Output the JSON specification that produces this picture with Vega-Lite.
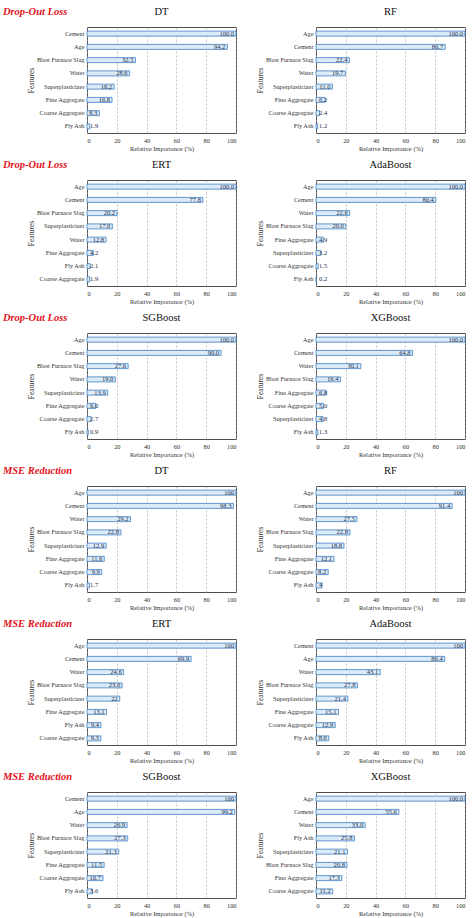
{
  "$schema": "https://vega.github.io/schema/vega-lite/v6.json",
  "padding": {"left": 2, "top": 6, "right": 2, "bottom": 2},
  "background": "white",
  "spacing": 7,
  "datasets": {
    "imp": [
      {"row": 1, "m": "DT", "r": 1, "f": "Cement", "v": 100.0, "l": "100.0"},
      {"row": 1, "m": "DT", "r": 2, "f": "Age", "v": 94.2, "l": "94.2"},
      {"row": 1, "m": "DT", "r": 3, "f": "Blast Furnace Slag", "v": 32.5, "l": "32.5"},
      {"row": 1, "m": "DT", "r": 4, "f": "Water", "v": 28.6, "l": "28.6"},
      {"row": 1, "m": "DT", "r": 5, "f": "Superplasticizer", "v": 18.2, "l": "18.2"},
      {"row": 1, "m": "DT", "r": 6, "f": "Fine Aggregate", "v": 16.8, "l": "16.8"},
      {"row": 1, "m": "DT", "r": 7, "f": "Coarse Aggregate", "v": 8.3, "l": "8.3"},
      {"row": 1, "m": "DT", "r": 8, "f": "Fly Ash", "v": 1.9, "l": "1.9"},
      {"row": 1, "m": "RF", "r": 1, "f": "Age", "v": 100.0, "l": "100.0"},
      {"row": 1, "m": "RF", "r": 2, "f": "Cement", "v": 86.7, "l": "86.7"},
      {"row": 1, "m": "RF", "r": 3, "f": "Blast Furnace Slag", "v": 22.4, "l": "22.4"},
      {"row": 1, "m": "RF", "r": 4, "f": "Water", "v": 19.7, "l": "19.7"},
      {"row": 1, "m": "RF", "r": 5, "f": "Superplasticizer", "v": 11.0, "l": "11.0"},
      {"row": 1, "m": "RF", "r": 6, "f": "Fine Aggregate", "v": 6.2, "l": "6.2"},
      {"row": 1, "m": "RF", "r": 7, "f": "Coarse Aggregate", "v": 2.4, "l": "2.4"},
      {"row": 1, "m": "RF", "r": 8, "f": "Fly Ash", "v": 1.2, "l": "1.2"},
      {"row": 2, "m": "ERT", "r": 1, "f": "Age", "v": 100.0, "l": "100.0"},
      {"row": 2, "m": "ERT", "r": 2, "f": "Cement", "v": 77.8, "l": "77.8"},
      {"row": 2, "m": "ERT", "r": 3, "f": "Blast Furnace Slag", "v": 20.2, "l": "20.2"},
      {"row": 2, "m": "ERT", "r": 4, "f": "Superplasticizer", "v": 17.0, "l": "17.0"},
      {"row": 2, "m": "ERT", "r": 5, "f": "Water", "v": 12.8, "l": "12.8"},
      {"row": 2, "m": "ERT", "r": 6, "f": "Fine Aggregate", "v": 4.2, "l": "4.2"},
      {"row": 2, "m": "ERT", "r": 7, "f": "Fly Ash", "v": 2.1, "l": "2.1"},
      {"row": 2, "m": "ERT", "r": 8, "f": "Coarse Aggregate", "v": 1.9, "l": "1.9"},
      {"row": 2, "m": "AdaBoost", "r": 1, "f": "Age", "v": 100.0, "l": "100.0"},
      {"row": 2, "m": "AdaBoost", "r": 2, "f": "Cement", "v": 80.4, "l": "80.4"},
      {"row": 2, "m": "AdaBoost", "r": 3, "f": "Water", "v": 22.6, "l": "22.6"},
      {"row": 2, "m": "AdaBoost", "r": 4, "f": "Blast Furnace Slag", "v": 20.0, "l": "20.0"},
      {"row": 2, "m": "AdaBoost", "r": 5, "f": "Fine Aggregate", "v": 4.9, "l": "4.9"},
      {"row": 2, "m": "AdaBoost", "r": 6, "f": "Superplasticizer", "v": 3.2, "l": "3.2"},
      {"row": 2, "m": "AdaBoost", "r": 7, "f": "Coarse Aggregate", "v": 1.5, "l": "1.5"},
      {"row": 2, "m": "AdaBoost", "r": 8, "f": "Fly Ash", "v": 0.2, "l": "0.2"},
      {"row": 3, "m": "SGBoost", "r": 1, "f": "Age", "v": 100.0, "l": "100.0"},
      {"row": 3, "m": "SGBoost", "r": 2, "f": "Cement", "v": 90.0, "l": "90.0"},
      {"row": 3, "m": "SGBoost", "r": 3, "f": "Blast Furnace Slag", "v": 27.6, "l": "27.6"},
      {"row": 3, "m": "SGBoost", "r": 4, "f": "Water", "v": 19.0, "l": "19.0"},
      {"row": 3, "m": "SGBoost", "r": 5, "f": "Superplasticizer", "v": 13.9, "l": "13.9"},
      {"row": 3, "m": "SGBoost", "r": 6, "f": "Fine Aggregate", "v": 6.0, "l": "6.0"},
      {"row": 3, "m": "SGBoost", "r": 7, "f": "Coarse Aggregate", "v": 2.7, "l": "2.7"},
      {"row": 3, "m": "SGBoost", "r": 8, "f": "Fly Ash", "v": 0.9, "l": "0.9"},
      {"row": 3, "m": "XGBoost", "r": 1, "f": "Age", "v": 100.0, "l": "100.0"},
      {"row": 3, "m": "XGBoost", "r": 2, "f": "Cement", "v": 64.8, "l": "64.8"},
      {"row": 3, "m": "XGBoost", "r": 3, "f": "Water", "v": 30.1, "l": "30.1"},
      {"row": 3, "m": "XGBoost", "r": 4, "f": "Blast Furnace Slag", "v": 16.4, "l": "16.4"},
      {"row": 3, "m": "XGBoost", "r": 5, "f": "Fine Aggregate", "v": 6.8, "l": "6.8"},
      {"row": 3, "m": "XGBoost", "r": 6, "f": "Coarse Aggregate", "v": 5.0, "l": "5.0"},
      {"row": 3, "m": "XGBoost", "r": 7, "f": "Superplasticizer", "v": 4.8, "l": "4.8"},
      {"row": 3, "m": "XGBoost", "r": 8, "f": "Fly Ash", "v": 1.3, "l": "1.3"},
      {"row": 4, "m": "DT", "r": 1, "f": "Age", "v": 100, "l": "100"},
      {"row": 4, "m": "DT", "r": 2, "f": "Cement", "v": 98.3, "l": "98.3"},
      {"row": 4, "m": "DT", "r": 3, "f": "Water", "v": 29.2, "l": "29.2"},
      {"row": 4, "m": "DT", "r": 4, "f": "Blast Furnace Slag", "v": 22.8, "l": "22.8"},
      {"row": 4, "m": "DT", "r": 5, "f": "Superplasticizer", "v": 12.9, "l": "12.9"},
      {"row": 4, "m": "DT", "r": 6, "f": "Fine Aggregate", "v": 11.6, "l": "11.6"},
      {"row": 4, "m": "DT", "r": 7, "f": "Coarse Aggregate", "v": 9.9, "l": "9.9"},
      {"row": 4, "m": "DT", "r": 8, "f": "Fly Ash", "v": 1.7, "l": "1.7"},
      {"row": 4, "m": "RF", "r": 1, "f": "Age", "v": 100, "l": "100"},
      {"row": 4, "m": "RF", "r": 2, "f": "Cement", "v": 91.4, "l": "91.4"},
      {"row": 4, "m": "RF", "r": 3, "f": "Water", "v": 27.5, "l": "27.5"},
      {"row": 4, "m": "RF", "r": 4, "f": "Blast Furnace Slag", "v": 22.8, "l": "22.8"},
      {"row": 4, "m": "RF", "r": 5, "f": "Superplasticizer", "v": 18.8, "l": "18.8"},
      {"row": 4, "m": "RF", "r": 6, "f": "Fine Aggregate", "v": 12.1, "l": "12.1"},
      {"row": 4, "m": "RF", "r": 7, "f": "Coarse Aggregate", "v": 8.2, "l": "8.2"},
      {"row": 4, "m": "RF", "r": 8, "f": "Fly Ash", "v": 4, "l": "4"},
      {"row": 5, "m": "ERT", "r": 1, "f": "Age", "v": 100, "l": "100"},
      {"row": 5, "m": "ERT", "r": 2, "f": "Cement", "v": 69.9, "l": "69.9"},
      {"row": 5, "m": "ERT", "r": 3, "f": "Water", "v": 24.6, "l": "24.6"},
      {"row": 5, "m": "ERT", "r": 4, "f": "Blast Furnace Slag", "v": 23.6, "l": "23.6"},
      {"row": 5, "m": "ERT", "r": 5, "f": "Superplasticizer", "v": 22, "l": "22"},
      {"row": 5, "m": "ERT", "r": 6, "f": "Fine Aggregate", "v": 13.1, "l": "13.1"},
      {"row": 5, "m": "ERT", "r": 7, "f": "Fly Ash", "v": 9.4, "l": "9.4"},
      {"row": 5, "m": "ERT", "r": 8, "f": "Coarse Aggregate", "v": 9.3, "l": "9.3"},
      {"row": 5, "m": "AdaBoost", "r": 1, "f": "Cement", "v": 100, "l": "100"},
      {"row": 5, "m": "AdaBoost", "r": 2, "f": "Age", "v": 86.4, "l": "86.4"},
      {"row": 5, "m": "AdaBoost", "r": 3, "f": "Water", "v": 43.1, "l": "43.1"},
      {"row": 5, "m": "AdaBoost", "r": 4, "f": "Blast Furnace Slag", "v": 27.8, "l": "27.8"},
      {"row": 5, "m": "AdaBoost", "r": 5, "f": "Superplasticizer", "v": 21.4, "l": "21.4"},
      {"row": 5, "m": "AdaBoost", "r": 6, "f": "Fine Aggregate", "v": 15.1, "l": "15.1"},
      {"row": 5, "m": "AdaBoost", "r": 7, "f": "Coarse Aggregate", "v": 12.9, "l": "12.9"},
      {"row": 5, "m": "AdaBoost", "r": 8, "f": "Fly Ash", "v": 8.6, "l": "8.6"},
      {"row": 6, "m": "SGBoost", "r": 1, "f": "Cement", "v": 100, "l": "100"},
      {"row": 6, "m": "SGBoost", "r": 2, "f": "Age", "v": 99.2, "l": "99.2"},
      {"row": 6, "m": "SGBoost", "r": 3, "f": "Water", "v": 26.9, "l": "26.9"},
      {"row": 6, "m": "SGBoost", "r": 4, "f": "Blast Furnace Slag", "v": 27.3, "l": "27.3"},
      {"row": 6, "m": "SGBoost", "r": 5, "f": "Superplasticizer", "v": 21.3, "l": "21.3"},
      {"row": 6, "m": "SGBoost", "r": 6, "f": "Fine Aggregate", "v": 11.5, "l": "11.5"},
      {"row": 6, "m": "SGBoost", "r": 7, "f": "Coarse Aggregate", "v": 10.7, "l": "10.7"},
      {"row": 6, "m": "SGBoost", "r": 8, "f": "Fly Ash", "v": 3.6, "l": "3.6"},
      {"row": 6, "m": "XGBoost", "r": 1, "f": "Age", "v": 100.0, "l": "100.0"},
      {"row": 6, "m": "XGBoost", "r": 2, "f": "Cement", "v": 55.6, "l": "55.6"},
      {"row": 6, "m": "XGBoost", "r": 3, "f": "Water", "v": 33.0, "l": "33.0"},
      {"row": 6, "m": "XGBoost", "r": 4, "f": "Fly Ash", "v": 25.8, "l": "25.8"},
      {"row": 6, "m": "XGBoost", "r": 5, "f": "Superplasticizer", "v": 21.1, "l": "21.1"},
      {"row": 6, "m": "XGBoost", "r": 6, "f": "Blast Furnace Slag", "v": 20.8, "l": "20.8"},
      {"row": 6, "m": "XGBoost", "r": 7, "f": "Fine Aggregate", "v": 17.3, "l": "17.3"},
      {"row": 6, "m": "XGBoost", "r": 8, "f": "Coarse Aggregate", "v": 11.2, "l": "11.2"}
    ]
  },
  "vconcat": [
    {
      "data": {"name": "imp"},
      "transform": [{"filter": "datum.row == 1"}],
      "title": {"text": "Drop-Out Loss", "anchor": "start", "frame": "bounds", "dx": -24, "offset": -11, "color": "#e3121c", "fontSize": 10.5, "fontStyle": "italic", "fontWeight": "bold"},
      "facet": {"column": {"field": "m", "type": "nominal", "sort": ["DT", "RF"], "title": null}},
      "spacing": 18,
      "resolve": {"scale": {"y": "independent"}},
      "spec": {
        "width": 149, "height": 106,
        "encoding": {"y": {"field": "f", "type": "nominal", "sort": {"field": "r", "op": "min", "order": "ascending"}, "title": "Features"}},
        "layer": [
          {"mark": {"type": "bar", "fill": "#dcebf8", "stroke": "#3f7fc0", "strokeWidth": 0.8, "size": 5},
           "encoding": {"x": {"field": "v", "type": "quantitative", "scale": {"domain": [0, 100], "nice": false}, "title": "Relative Importance (%)"}}},
          {"mark": {"type": "text", "align": "right", "baseline": "middle", "dx": -2, "fontSize": 6.5, "color": "#1b2a47"},
           "encoding": {"x": {"field": "v", "type": "quantitative"}, "text": {"condition": {"test": "datum.v >= 8", "field": "l", "type": "nominal"}, "value": ""}}},
          {"mark": {"type": "text", "align": "left", "baseline": "middle", "dx": 3, "fontSize": 6.5, "color": "#1b2a47"},
           "encoding": {"x": {"datum": 0, "type": "quantitative"}, "text": {"condition": {"test": "datum.v < 8", "field": "l", "type": "nominal"}, "value": ""}}}
        ]
      }
    },
    {
      "data": {"name": "imp"},
      "transform": [{"filter": "datum.row == 2"}],
      "title": {"text": "Drop-Out Loss", "anchor": "start", "frame": "bounds", "dx": -24, "offset": -11, "color": "#e3121c", "fontSize": 10.5, "fontStyle": "italic", "fontWeight": "bold"},
      "facet": {"column": {"field": "m", "type": "nominal", "sort": ["ERT", "AdaBoost"], "title": null}},
      "spacing": 18,
      "resolve": {"scale": {"y": "independent"}},
      "spec": {
        "width": 149, "height": 106,
        "encoding": {"y": {"field": "f", "type": "nominal", "sort": {"field": "r", "op": "min", "order": "ascending"}, "title": "Features"}},
        "layer": [
          {"mark": {"type": "bar", "fill": "#dcebf8", "stroke": "#3f7fc0", "strokeWidth": 0.8, "size": 5},
           "encoding": {"x": {"field": "v", "type": "quantitative", "scale": {"domain": [0, 100], "nice": false}, "title": "Relative Importance (%)"}}},
          {"mark": {"type": "text", "align": "right", "baseline": "middle", "dx": -2, "fontSize": 6.5, "color": "#1b2a47"},
           "encoding": {"x": {"field": "v", "type": "quantitative"}, "text": {"condition": {"test": "datum.v >= 8", "field": "l", "type": "nominal"}, "value": ""}}},
          {"mark": {"type": "text", "align": "left", "baseline": "middle", "dx": 3, "fontSize": 6.5, "color": "#1b2a47"},
           "encoding": {"x": {"datum": 0, "type": "quantitative"}, "text": {"condition": {"test": "datum.v < 8", "field": "l", "type": "nominal"}, "value": ""}}}
        ]
      }
    },
    {
      "data": {"name": "imp"},
      "transform": [{"filter": "datum.row == 3"}],
      "title": {"text": "Drop-Out Loss", "anchor": "start", "frame": "bounds", "dx": -24, "offset": -11, "color": "#e3121c", "fontSize": 10.5, "fontStyle": "italic", "fontWeight": "bold"},
      "facet": {"column": {"field": "m", "type": "nominal", "sort": ["SGBoost", "XGBoost"], "title": null}},
      "spacing": 18,
      "resolve": {"scale": {"y": "independent"}},
      "spec": {
        "width": 149, "height": 106,
        "encoding": {"y": {"field": "f", "type": "nominal", "sort": {"field": "r", "op": "min", "order": "ascending"}, "title": "Features"}},
        "layer": [
          {"mark": {"type": "bar", "fill": "#dcebf8", "stroke": "#3f7fc0", "strokeWidth": 0.8, "size": 5},
           "encoding": {"x": {"field": "v", "type": "quantitative", "scale": {"domain": [0, 100], "nice": false}, "title": "Relative Importance (%)"}}},
          {"mark": {"type": "text", "align": "right", "baseline": "middle", "dx": -2, "fontSize": 6.5, "color": "#1b2a47"},
           "encoding": {"x": {"field": "v", "type": "quantitative"}, "text": {"condition": {"test": "datum.v >= 8", "field": "l", "type": "nominal"}, "value": ""}}},
          {"mark": {"type": "text", "align": "left", "baseline": "middle", "dx": 3, "fontSize": 6.5, "color": "#1b2a47"},
           "encoding": {"x": {"datum": 0, "type": "quantitative"}, "text": {"condition": {"test": "datum.v < 8", "field": "l", "type": "nominal"}, "value": ""}}}
        ]
      }
    },
    {
      "data": {"name": "imp"},
      "transform": [{"filter": "datum.row == 4"}],
      "title": {"text": "MSE Reduction", "anchor": "start", "frame": "bounds", "dx": -24, "offset": -11, "color": "#e3121c", "fontSize": 10.5, "fontStyle": "italic", "fontWeight": "bold"},
      "facet": {"column": {"field": "m", "type": "nominal", "sort": ["DT", "RF"], "title": null}},
      "spacing": 18,
      "resolve": {"scale": {"y": "independent"}},
      "spec": {
        "width": 149, "height": 106,
        "encoding": {"y": {"field": "f", "type": "nominal", "sort": {"field": "r", "op": "min", "order": "ascending"}, "title": "Features"}},
        "layer": [
          {"mark": {"type": "bar", "fill": "#dcebf8", "stroke": "#3f7fc0", "strokeWidth": 0.8, "size": 5},
           "encoding": {"x": {"field": "v", "type": "quantitative", "scale": {"domain": [0, 100], "nice": false}, "title": "Relative Importance (%)"}}},
          {"mark": {"type": "text", "align": "right", "baseline": "middle", "dx": -2, "fontSize": 6.5, "color": "#1b2a47"},
           "encoding": {"x": {"field": "v", "type": "quantitative"}, "text": {"condition": {"test": "datum.v >= 8", "field": "l", "type": "nominal"}, "value": ""}}},
          {"mark": {"type": "text", "align": "left", "baseline": "middle", "dx": 3, "fontSize": 6.5, "color": "#1b2a47"},
           "encoding": {"x": {"datum": 0, "type": "quantitative"}, "text": {"condition": {"test": "datum.v < 8", "field": "l", "type": "nominal"}, "value": ""}}}
        ]
      }
    },
    {
      "data": {"name": "imp"},
      "transform": [{"filter": "datum.row == 5"}],
      "title": {"text": "MSE Reduction", "anchor": "start", "frame": "bounds", "dx": -24, "offset": -11, "color": "#e3121c", "fontSize": 10.5, "fontStyle": "italic", "fontWeight": "bold"},
      "facet": {"column": {"field": "m", "type": "nominal", "sort": ["ERT", "AdaBoost"], "title": null}},
      "spacing": 18,
      "resolve": {"scale": {"y": "independent"}},
      "spec": {
        "width": 149, "height": 106,
        "encoding": {"y": {"field": "f", "type": "nominal", "sort": {"field": "r", "op": "min", "order": "ascending"}, "title": "Features"}},
        "layer": [
          {"mark": {"type": "bar", "fill": "#dcebf8", "stroke": "#3f7fc0", "strokeWidth": 0.8, "size": 5},
           "encoding": {"x": {"field": "v", "type": "quantitative", "scale": {"domain": [0, 100], "nice": false}, "title": "Relative Importance (%)"}}},
          {"mark": {"type": "text", "align": "right", "baseline": "middle", "dx": -2, "fontSize": 6.5, "color": "#1b2a47"},
           "encoding": {"x": {"field": "v", "type": "quantitative"}, "text": {"condition": {"test": "datum.v >= 8", "field": "l", "type": "nominal"}, "value": ""}}},
          {"mark": {"type": "text", "align": "left", "baseline": "middle", "dx": 3, "fontSize": 6.5, "color": "#1b2a47"},
           "encoding": {"x": {"datum": 0, "type": "quantitative"}, "text": {"condition": {"test": "datum.v < 8", "field": "l", "type": "nominal"}, "value": ""}}}
        ]
      }
    },
    {
      "data": {"name": "imp"},
      "transform": [{"filter": "datum.row == 6"}],
      "title": {"text": "MSE Reduction", "anchor": "start", "frame": "bounds", "dx": -24, "offset": -11, "color": "#e3121c", "fontSize": 10.5, "fontStyle": "italic", "fontWeight": "bold"},
      "facet": {"column": {"field": "m", "type": "nominal", "sort": ["SGBoost", "XGBoost"], "title": null}},
      "spacing": 18,
      "resolve": {"scale": {"y": "independent"}},
      "spec": {
        "width": 149, "height": 106,
        "encoding": {"y": {"field": "f", "type": "nominal", "sort": {"field": "r", "op": "min", "order": "ascending"}, "title": "Features"}},
        "layer": [
          {"mark": {"type": "bar", "fill": "#dcebf8", "stroke": "#3f7fc0", "strokeWidth": 0.8, "size": 5},
           "encoding": {"x": {"field": "v", "type": "quantitative", "scale": {"domain": [0, 100], "nice": false}, "title": "Relative Importance (%)"}}},
          {"mark": {"type": "text", "align": "right", "baseline": "middle", "dx": -2, "fontSize": 6.5, "color": "#1b2a47"},
           "encoding": {"x": {"field": "v", "type": "quantitative"}, "text": {"condition": {"test": "datum.v >= 8", "field": "l", "type": "nominal"}, "value": ""}}},
          {"mark": {"type": "text", "align": "left", "baseline": "middle", "dx": 3, "fontSize": 6.5, "color": "#1b2a47"},
           "encoding": {"x": {"datum": 0, "type": "quantitative"}, "text": {"condition": {"test": "datum.v < 8", "field": "l", "type": "nominal"}, "value": ""}}}
        ]
      }
    }
  ],
  "config": {
    "font": "Liberation Serif",
    "view": {"stroke": "#4d4d4d", "strokeWidth": 1},
    "axis": {"labelFont": "Liberation Serif", "titleFont": "Liberation Serif", "labelFontSize": 6.3, "titleFontSize": 6.5, "labelColor": "#333333", "titleColor": "#333333", "titleFontWeight": "normal", "ticks": false, "domain": false},
    "axisX": {"grid": true, "gridDash": [2, 2], "gridColor": "#9a9a9a", "gridWidth": 0.6, "labelPadding": 3, "titlePadding": 2, "values": [0, 20, 40, 60, 80, 100]},
    "axisY": {"grid": false, "labelPadding": 3, "titlePadding": 1, "titleFontSize": 7.5},
    "header": {"labelFont": "Liberation Serif", "labelFontSize": 10.5, "labelColor": "#111111", "labelPadding": 9},
    "title": {"font": "Liberation Serif"}
  }
}
